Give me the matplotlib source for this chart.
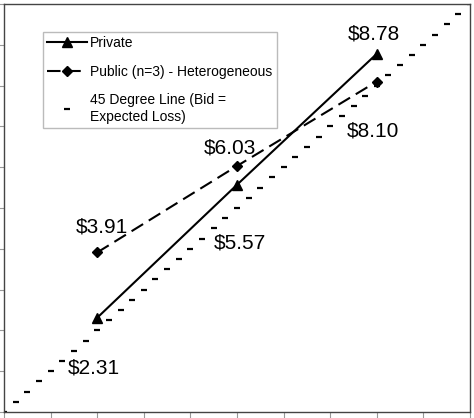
import matplotlib
matplotlib.use("Agg")
import matplotlib.pyplot as plt

plt.rcParams['font.family'] = ['Liberation Sans', 'DejaVu Sans']

# data
expected_loss = [2, 5, 8]
private_bids = [2.31, 5.57, 8.78]
public_bids = [3.91, 6.03, 8.10]

# 45 degree line: bid = expected loss
line45_x = [0, 0.25, 0.5, 0.75, 1, 1.25, 1.5, 1.75, 2, 2.25, 2.5, 2.75,
            3, 3.25, 3.5, 3.75, 4, 4.25, 4.5, 4.75, 5, 5.25, 5.5, 5.75,
            6, 6.25, 6.5, 6.75, 7, 7.25, 7.5, 7.75, 8, 8.25, 8.5, 8.75,
            9, 9.25, 9.5, 9.75, 10]
line45_y = list(line45_x)

private_labels = ["$2.31", "$5.57", "$8.78"]
public_labels = ["$3.91", "$6.03", "$8.10"]
# label offsets in pixels (dx, dy)
private_offsets = [(-3, -50), (3, -58), (-3, 20)]
public_offsets = [(5, 25), (-7, 18), (-4, -49)]

fig = plt.figure(figsize=(4.74, 4.18), dpi=100)
ax = fig.add_axes([4 / 474, 1 - 412 / 418, 466 / 474, 408 / 418])

ax.plot(line45_x, line45_y, linestyle='none', marker='_', markersize=4.5,
        markeredgewidth=1.6, color='black',
        label='45 Degree Line (Bid =\nExpected Loss)', zorder=2)
ax.plot(expected_loss, private_bids, color='black', linewidth=1.5,
        marker='^', markersize=7.5, label='Private', zorder=3)
ax.plot(expected_loss, public_bids, color='black', linewidth=1.5,
        dashes=(6.5, 3.2), marker='D', markersize=5,
        label='Public (n=3) - Heterogeneous', zorder=3)

for x, y, t, (dx, dy) in zip(expected_loss, private_bids, private_labels, private_offsets):
    ax.annotate(t, (x, y), xytext=(dx, dy), textcoords='offset pixels',
                ha='center', va='center', fontsize=15)
for x, y, t, (dx, dy) in zip(expected_loss, public_bids, public_labels, public_offsets):
    ax.annotate(t, (x, y), xytext=(dx, dy), textcoords='offset pixels',
                ha='center', va='center', fontsize=15)

ax.set_xlim(0, 10)
ax.set_ylim(0, 10)
ax.set_xticks(range(0, 11))
ax.set_yticks(range(0, 11))
ax.set_xticklabels([])
ax.set_yticklabels([])
ax.tick_params(direction='out', length=5, width=0.8, color='#999999')
for s in ax.spines.values():
    s.set_color('#444444')
    s.set_linewidth(1.0)

handles, labels = ax.get_legend_handles_labels()
order = [1, 2, 0]
leg = ax.legend([handles[i] for i in order], [labels[i] for i in order],
                loc='upper left', bbox_to_anchor=((43 - 4) / 466, (412 - 32) / 408),
                borderaxespad=0, fontsize=10, numpoints=1, handlelength=2.9,
                handletextpad=0.2, labelspacing=1.05, borderpad=0.3,
                fancybox=False, frameon=True, framealpha=1)
leg.get_frame().set_edgecolor('#bbbbbb')
leg.get_frame().set_linewidth(1.0)

fig.savefig('out.png', dpi=100)
